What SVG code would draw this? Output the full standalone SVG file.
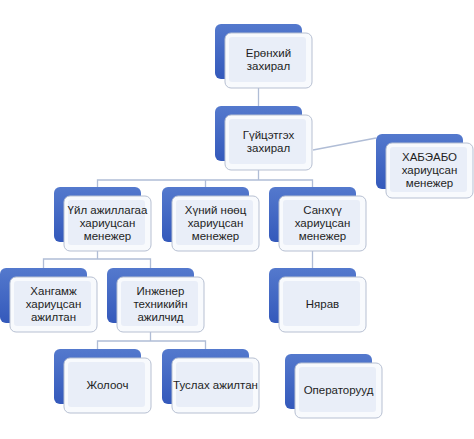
<svg xmlns="http://www.w3.org/2000/svg" width="474" height="439" viewBox="0 0 474 439">
<defs>
<linearGradient id="bg" x1="0" y1="0" x2="0" y2="1">
<stop offset="0" stop-color="#5479cd"/>
<stop offset="1" stop-color="#3459bb"/>
</linearGradient>
<style>
.back{fill:url(#bg);}
.front{fill:#f8fafd;stroke:#b7c0d2;stroke-width:1;}
.inner{fill:#e9eef8;}
.lbl{font-family:"Liberation Sans",Arial,sans-serif;font-size:11.5px;fill:#1e1e1e;text-anchor:middle;}
.conn{fill:none;stroke:#b0bdd6;stroke-width:1.3;}
</style>
<g id="box">
<rect class="back" x="0" y="0" width="87" height="55" rx="6"/>
<rect class="front" x="10" y="9" width="87" height="55" rx="6"/>
<rect class="inner" x="14" y="13" width="77" height="45" rx="3"/>
</g>
</defs>
<rect width="474" height="439" fill="#ffffff"/>
<g id="connectors">
<line class="conn" x1="258.5" y1="88" x2="258.5" y2="106"/>
<polyline class="conn" points="258.5,170 258.5,180"/>
<polyline class="conn" points="97.5,187 97.5,180 312.5,180 312.5,187"/>
<line class="conn" x1="205.5" y1="180" x2="205.5" y2="187"/>
<line class="conn" x1="313" y1="150" x2="376" y2="138"/>
<line class="conn" x1="97.5" y1="251" x2="97.5" y2="259"/>
<polyline class="conn" points="43.5,268 43.5,259 150.5,259 150.5,268"/>
<line class="conn" x1="312.5" y1="251" x2="312.5" y2="268"/>
<line class="conn" x1="150.5" y1="332" x2="150.5" y2="341"/>
<polyline class="conn" points="97.5,349 97.5,341 205.5,341 205.5,349"/>
</g>
<g id="n1"><use href="#box" x="215" y="24"/><text class="lbl" x="268.5" y="60"><tspan x="268.5" dy="-6.5" dominant-baseline="middle">Ерөнхий</tspan><tspan x="268.5" dy="13" dominant-baseline="middle">захирал</tspan></text></g>
<g id="n2"><use href="#box" x="215" y="106"/><text class="lbl"><tspan x="268.5" y="135.5" dominant-baseline="middle">Гүйцэтгэх</tspan><tspan x="268.5" y="148.5" dominant-baseline="middle">захирал</tspan></text></g>
<g id="hab"><use href="#box" x="376" y="134"/><text class="lbl"><tspan x="429.5" y="157.5" dominant-baseline="middle">ХАБЭАБО</tspan><tspan x="429.5" y="170.5" dominant-baseline="middle">хариуцсан</tspan><tspan x="429.5" y="183.5" dominant-baseline="middle">менежер</tspan></text></g>
<g id="uil"><use href="#box" x="54" y="187"/><text class="lbl"><tspan x="107.5" y="210.5" dominant-baseline="middle">Үйл ажиллагаа</tspan><tspan x="107.5" y="223.5" dominant-baseline="middle">хариуцсан</tspan><tspan x="107.5" y="236.5" dominant-baseline="middle">менежер</tspan></text></g>
<g id="hun"><use href="#box" x="162" y="187"/><text class="lbl"><tspan x="215.5" y="210.5" dominant-baseline="middle">Хүний нөөц</tspan><tspan x="215.5" y="223.5" dominant-baseline="middle">хариуцсан</tspan><tspan x="215.5" y="236.5" dominant-baseline="middle">менежер</tspan></text></g>
<g id="sanhuu"><use href="#box" x="269" y="187"/><text class="lbl"><tspan x="322.5" y="210.5" dominant-baseline="middle">Санхүү</tspan><tspan x="322.5" y="223.5" dominant-baseline="middle">хариуцсан</tspan><tspan x="322.5" y="236.5" dominant-baseline="middle">менежер</tspan></text></g>
<g id="hangamj"><use href="#box" x="0" y="268"/><text class="lbl"><tspan x="53.5" y="291.5" dominant-baseline="middle">Хангамж</tspan><tspan x="53.5" y="304.5" dominant-baseline="middle">хариуцсан</tspan><tspan x="53.5" y="317.5" dominant-baseline="middle">ажилтан</tspan></text></g>
<g id="injener"><use href="#box" x="107" y="268"/><text class="lbl"><tspan x="160.5" y="291.5" dominant-baseline="middle">Инженер</tspan><tspan x="160.5" y="304.5" dominant-baseline="middle">техникийн</tspan><tspan x="160.5" y="317.5" dominant-baseline="middle">ажилчид</tspan></text></g>
<g id="nyarav"><use href="#box" x="269" y="268"/><text class="lbl" x="322.5" y="304.5" dominant-baseline="middle">Нярав</text></g>
<g id="jolooch"><use href="#box" x="54" y="349"/><text class="lbl" x="107.5" y="385.5" dominant-baseline="middle">Жолооч</text></g>
<g id="tuslah"><use href="#box" x="162" y="349"/><text class="lbl" x="215.5" y="385.5" dominant-baseline="middle">Туслах ажилтан</text></g>
<g id="operator"><use href="#box" x="285" y="354"/><text class="lbl" x="338.5" y="390.5" dominant-baseline="middle">Операторууд</text></g>
</svg>
